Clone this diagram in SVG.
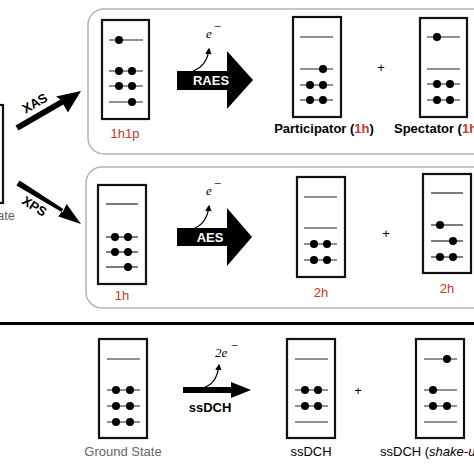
<svg xmlns="http://www.w3.org/2000/svg" width="474" height="474" viewBox="0 0 474 474">
<defs>
<style>
.panel{fill:none;stroke:#b4b4b4;stroke-width:1.5}
.box{fill:#fff;stroke:#111;stroke-width:2.2}
.lvl{stroke:#222;stroke-width:1.2}
.dot{fill:#000}
.lab{font-family:"Liberation Sans",Arial,sans-serif;font-size:13px;text-anchor:middle}
.b{font-weight:bold}
.red{fill:#c8372d}
.gray{fill:#666}
.el{font-family:"Liberation Serif","Times New Roman",serif;font-style:italic;font-size:13px}
.curve{fill:none;stroke:#000;stroke-width:1.3}
</style>
<marker id="ah" viewBox="0 0 10 10" refX="8" refY="5" markerWidth="5" markerHeight="5" orient="auto"><path d="M0,0 L10,5 L0,10 z" fill="#000"/></marker>
</defs>
<rect width="474" height="474" fill="#fff"/>

<g id="panels">
<rect class="panel" x="88" y="9" width="420" height="145" rx="16"/>
<rect class="panel" x="86" y="167" width="420" height="141" rx="16"/>
<line x1="0" y1="323.5" x2="474" y2="323.5" stroke="#000" stroke-width="3"/>
</g>

<g id="ground-top">
<rect class="box" x="-44" y="105" width="47" height="98"/>
<text class="lab gray" x="15" y="220" style="text-anchor:end">Ground State</text>
</g>

<g id="state-1h1p">
<rect class="box" x="102" y="20" width="47" height="99"/>
<line class="lvl" x1="109" y1="40" x2="143" y2="40"/>
<line class="lvl" x1="109" y1="71" x2="143" y2="71"/>
<line class="lvl" x1="109" y1="86" x2="143" y2="86"/>
<line class="lvl" x1="109" y1="102" x2="143" y2="102"/>
<circle class="dot" cx="119" cy="40" r="4"/>
<circle class="dot" cx="119" cy="71" r="4"/><circle class="dot" cx="132" cy="71" r="4"/>
<circle class="dot" cx="119" cy="86" r="4"/><circle class="dot" cx="132" cy="86" r="4"/>
<circle class="dot" cx="132" cy="102" r="4"/>
<text class="lab red" x="125" y="138">1h1p</text>
</g>

<g id="state-participator">
<rect class="box" x="293" y="17" width="48" height="100"/>
<line class="lvl" x1="300" y1="37" x2="333" y2="37"/>
<line class="lvl" x1="300" y1="69" x2="333" y2="69"/>
<line class="lvl" x1="300" y1="85" x2="333" y2="85"/>
<line class="lvl" x1="300" y1="100" x2="333" y2="100"/>
<circle class="dot" cx="323" cy="69" r="4"/>
<circle class="dot" cx="310" cy="85" r="4"/><circle class="dot" cx="323" cy="85" r="4"/>
<circle class="dot" cx="310" cy="100" r="4"/><circle class="dot" cx="323" cy="100" r="4"/>
<text class="lab b" x="324" y="133">Participator (<tspan class="red">1h</tspan>)</text>
</g>

<text class="lab" x="381" y="72">+</text>

<g id="state-spectator">
<rect class="box" x="420" y="18" width="47" height="99"/>
<line class="lvl" x1="427" y1="37" x2="460" y2="37"/>
<line class="lvl" x1="427" y1="69" x2="460" y2="69"/>
<line class="lvl" x1="427" y1="84" x2="460" y2="84"/>
<line class="lvl" x1="427" y1="100" x2="460" y2="100"/>
<circle class="dot" cx="437" cy="37" r="4"/>
<circle class="dot" cx="437" cy="84" r="4"/><circle class="dot" cx="450" cy="84" r="4"/>
<circle class="dot" cx="437" cy="100" r="4"/><circle class="dot" cx="450" cy="100" r="4"/>
<text class="lab b" x="394" y="133" style="text-anchor:start">Spectator (<tspan class="red">1h</tspan>)</text>
</g>

<g id="state-1h">
<rect class="box" x="98" y="185" width="48" height="99"/>
<line class="lvl" x1="106" y1="204" x2="138" y2="204"/>
<line class="lvl" x1="106" y1="237" x2="138" y2="237"/>
<line class="lvl" x1="106" y1="252" x2="138" y2="252"/>
<line class="lvl" x1="106" y1="267" x2="138" y2="267"/>
<circle class="dot" cx="115" cy="237" r="4"/><circle class="dot" cx="128" cy="237" r="4"/>
<circle class="dot" cx="115" cy="252" r="4"/><circle class="dot" cx="128" cy="252" r="4"/>
<circle class="dot" cx="128" cy="267" r="4"/>
<text class="lab red" x="122" y="300">1h</text>
</g>

<g id="state-2h-a">
<rect class="box" x="297" y="177" width="48" height="100"/>
<line class="lvl" x1="304" y1="197" x2="337" y2="197"/>
<line class="lvl" x1="304" y1="228" x2="337" y2="228"/>
<line class="lvl" x1="304" y1="244" x2="337" y2="244"/>
<line class="lvl" x1="304" y1="260" x2="337" y2="260"/>
<circle class="dot" cx="314" cy="244" r="4"/><circle class="dot" cx="327" cy="244" r="4"/>
<circle class="dot" cx="314" cy="260" r="4"/><circle class="dot" cx="327" cy="260" r="4"/>
<text class="lab red" x="321" y="297">2h</text>
</g>

<text class="lab" x="386" y="238">+</text>

<g id="state-2h-b">
<rect class="box" x="423" y="174" width="48" height="99"/>
<line class="lvl" x1="431" y1="193" x2="463" y2="193"/>
<line class="lvl" x1="431" y1="225" x2="463" y2="225"/>
<line class="lvl" x1="431" y1="241" x2="463" y2="241"/>
<line class="lvl" x1="431" y1="257" x2="463" y2="257"/>
<circle class="dot" cx="440" cy="225" r="4"/>
<circle class="dot" cx="453" cy="241" r="4"/>
<circle class="dot" cx="440" cy="257" r="4"/><circle class="dot" cx="453" cy="257" r="4"/>
<text class="lab red" x="447" y="293">2h</text>
</g>

<g id="ground-bottom">
<rect class="box" x="99" y="339" width="48" height="99"/>
<line class="lvl" x1="107" y1="359" x2="140" y2="359"/>
<line class="lvl" x1="107" y1="390" x2="140" y2="390"/>
<line class="lvl" x1="107" y1="406" x2="140" y2="406"/>
<line class="lvl" x1="107" y1="422" x2="140" y2="422"/>
<circle class="dot" cx="116" cy="390" r="4"/><circle class="dot" cx="130" cy="390" r="4"/>
<circle class="dot" cx="116" cy="406" r="4"/><circle class="dot" cx="130" cy="406" r="4"/>
<circle class="dot" cx="116" cy="422" r="4"/><circle class="dot" cx="130" cy="422" r="4"/>
<text class="lab gray" x="123" y="456">Ground State</text>
</g>

<g id="state-ssdch">
<rect class="box" x="287" y="339" width="48" height="99"/>
<line class="lvl" x1="295" y1="359" x2="328" y2="359"/>
<line class="lvl" x1="295" y1="390" x2="328" y2="390"/>
<line class="lvl" x1="295" y1="406" x2="328" y2="406"/>
<line class="lvl" x1="295" y1="422" x2="328" y2="422"/>
<circle class="dot" cx="305" cy="390" r="4"/><circle class="dot" cx="318" cy="390" r="4"/>
<circle class="dot" cx="305" cy="406" r="4"/><circle class="dot" cx="318" cy="406" r="4"/>
<text class="lab" x="311" y="456">ssDCH</text>
</g>

<text class="lab" x="358" y="395">+</text>

<g id="state-ssdch-shakeup">
<rect class="box" x="416" y="339" width="48" height="99"/>
<line class="lvl" x1="424" y1="359" x2="457" y2="359"/>
<line class="lvl" x1="424" y1="390" x2="457" y2="390"/>
<line class="lvl" x1="424" y1="406" x2="457" y2="406"/>
<line class="lvl" x1="424" y1="422" x2="457" y2="422"/>
<circle class="dot" cx="447" cy="359" r="4"/>
<circle class="dot" cx="433" cy="390" r="4"/>
<circle class="dot" cx="433" cy="406" r="4"/><circle class="dot" cx="447" cy="406" r="4"/>
<text class="lab" x="380" y="456" style="text-anchor:start">ssDCH (<tspan font-style="italic">shake-up</tspan>)</text>
</g>

<g id="connectors">
<!-- XAS -->
<polygon points="18.5,130.6 63.4,104.6 67.9,112.4 81,91 56,96.6 60.4,99.4 15.5,125.4" fill="#000"/>
<text class="lab b" x="0" y="0" font-size="12" transform="translate(37,107) rotate(-30)">XAS</text>
<!-- XPS -->
<polygon points="19.6,180.5 63.3,209 58.4,216.6 81,224 66.6,204.1 62.5,212.5 16.4,185.5" fill="#000"/>
<text class="lab b" x="0" y="0" font-size="12" transform="translate(32,210) rotate(33)">XPS</text>
<!-- RAES -->
<polygon points="177,71 227,71 227,51 253,80 227,109 227,90 177,90" fill="#000"/>
<text class="lab b" x="211" y="85" fill="#fff" font-size="12">RAES</text>
<path class="curve" d="M193,71 Q207,66 209,49" marker-end="url(#ah)"/>
<text class="el" x="206" y="38">e</text><text class="el" x="213" y="31" font-size="10" font-style="normal">−</text>
<!-- AES -->
<polygon points="177,228 227,228 227,208 252,237 227,266 227,246 177,246" fill="#000"/>
<text class="lab b" x="210" y="242" fill="#fff" font-size="12">AES</text>
<path class="curve" d="M195,228 Q207,223 209,206" marker-end="url(#ah)"/>
<text class="el" x="206" y="195">e</text><text class="el" x="213" y="188" font-size="10" font-style="normal">−</text>
<!-- ssDCH -->
<polygon points="183,387 231,387 231,382 251,390 231,398 231,393 183,393" fill="#000"/>
<path class="curve" d="M205,387 Q217,383 219,365" marker-end="url(#ah)"/>
<text class="el" x="215" y="357">2e</text><text class="el" x="230" y="350" font-size="10" font-style="normal">−</text>
<text class="lab b" x="210" y="412" font-size="12">ssDCH</text>
</g>
</svg>
